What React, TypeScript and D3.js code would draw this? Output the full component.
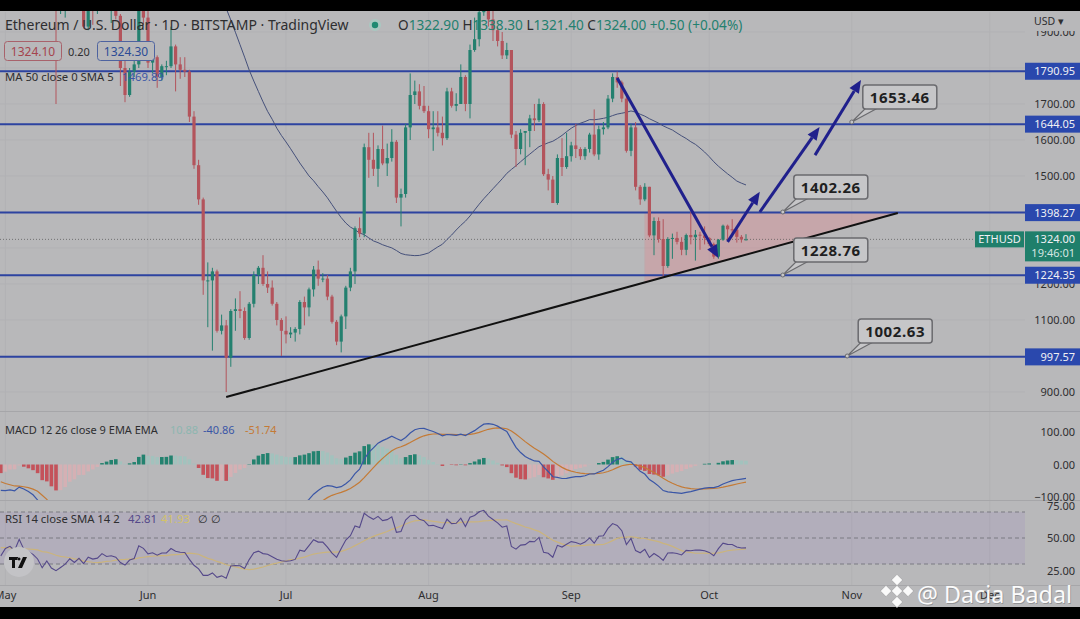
import React from 'react';
import * as d3 from 'd3';

// closes before the first visible candle (Mar 1 - Apr 30), only used to warm up the indicators
const warmupCloses = [
  2970, 2950, 2835, 2620, 2665, 2555, 2495, 2575, 2730, 2610, 2560, 2575, 2515, 2590, 2620, 2770,
  2815, 2945, 2950, 2860, 2895, 2970, 3030, 3110, 3105, 3145, 3295, 3330, 3400, 3385, 3280,
  3450, 3445, 3520, 3520, 3410, 3170, 3235, 3190, 3260, 3210, 2980, 3030, 3120, 3020, 3040,
  3060, 2990, 3060, 3105, 3080, 2985, 2965, 2935, 2920, 3005, 2810, 2890, 2935, 2815, 2730,
];

// daily candles from May 1 2022: [open, high, low, close]
const candles: [number, number, number, number][] = [
  [2730, 2840, 2710, 2825], [2825, 2885, 2780, 2855], [2855, 2870, 2765, 2780], [2780, 2955, 2765, 2940],
  [2940, 2950, 2700, 2750], [2750, 2760, 2650, 2695], [2695, 2705, 2580, 2635], [2635, 2645, 2480, 2520],
  [2520, 2530, 2220, 2240], [2240, 2450, 2200, 2340], [2340, 2460, 2040, 2080], [2080, 2110, 1700, 1960],
  [1960, 2140, 1950, 2010], [2010, 2070, 1940, 2060], [2060, 2150, 2000, 2145], [2145, 2150, 1990, 2025],
  [2025, 2110, 2020, 2090], [2090, 2110, 1910, 1915], [1915, 2040, 1905, 2020], [2020, 2060, 1920, 1960],
  [1960, 1990, 1950, 1975], [1975, 2050, 1965, 2045], [2045, 2085, 1960, 1970], [1970, 2005, 1925, 1980],
  [1980, 2010, 1935, 1945], [1945, 1950, 1750, 1800], [1800, 1825, 1705, 1725], [1725, 1800, 1720, 1790],
  [1790, 1820, 1775, 1810], [1810, 2010, 1800, 1995], [1995, 2020, 1920, 1940],
  // June
  [1940, 1970, 1800, 1815], [1815, 1840, 1785, 1830], [1830, 1835, 1745, 1775], [1775, 1810, 1765, 1805],
  [1805, 1820, 1780, 1805], [1805, 1915, 1800, 1860], [1860, 1865, 1735, 1810], [1810, 1830, 1770, 1795],
  [1795, 1830, 1775, 1790], [1790, 1795, 1650, 1665], [1665, 1680, 1520, 1530], [1530, 1545, 1420, 1435],
  [1435, 1440, 1170, 1210], [1210, 1260, 1080, 1210], [1210, 1245, 1015, 1235], [1235, 1240, 1065, 1070],
  [1070, 1115, 1060, 1085], [1085, 1100, 900, 995], [995, 1130, 970, 1125], [1125, 1160, 1070, 1130],
  [1130, 1180, 1105, 1125], [1125, 1135, 1045, 1050], [1050, 1150, 1045, 1145], [1145, 1235, 1135, 1225],
  [1225, 1250, 1200, 1245], [1245, 1280, 1195, 1200], [1200, 1235, 1175, 1190], [1190, 1210, 1140, 1145],
  [1145, 1150, 1085, 1100], [1100, 1105, 1000, 1070],
  // July
  [1070, 1110, 1035, 1060], [1060, 1080, 1050, 1065], [1065, 1080, 1040, 1075], [1075, 1155, 1060, 1150],
  [1150, 1165, 1085, 1135], [1135, 1190, 1110, 1185], [1185, 1250, 1165, 1240], [1240, 1265, 1195, 1215],
  [1215, 1230, 1205, 1215], [1215, 1225, 1155, 1165], [1165, 1170, 1090, 1095], [1095, 1100, 1030, 1040],
  [1040, 1115, 1010, 1110], [1110, 1195, 1075, 1190], [1190, 1245, 1180, 1235], [1235, 1360, 1200, 1355],
  [1355, 1385, 1330, 1340], [1340, 1590, 1330, 1580], [1580, 1620, 1495, 1545], [1545, 1620, 1500, 1520],
  [1520, 1585, 1470, 1575], [1575, 1640, 1530, 1535], [1535, 1590, 1500, 1550], [1550, 1630, 1540, 1595],
  [1595, 1600, 1425, 1440], [1440, 1465, 1360, 1450], [1450, 1645, 1440, 1635], [1635, 1785, 1600, 1725],
  [1725, 1765, 1700, 1735], [1735, 1755, 1685, 1695], [1695, 1750, 1675, 1680],
  // August
  [1680, 1695, 1605, 1630], [1630, 1680, 1570, 1635], [1635, 1680, 1610, 1620], [1620, 1665, 1585, 1605],
  [1605, 1745, 1600, 1735], [1735, 1745, 1690, 1695], [1695, 1730, 1680, 1700], [1700, 1810, 1700, 1775],
  [1775, 1780, 1680, 1700], [1700, 1865, 1660, 1850], [1850, 1940, 1845, 1880], [1880, 1960, 1860, 1955],
  [1955, 2020, 1945, 1985], [1985, 2030, 1915, 1935], [1935, 2010, 1875, 1905], [1905, 1915, 1860, 1875],
  [1875, 1900, 1825, 1835], [1835, 1870, 1825, 1850], [1850, 1850, 1605, 1615], [1615, 1625, 1525, 1575],
  [1575, 1630, 1560, 1620], [1620, 1625, 1530, 1625], [1625, 1670, 1580, 1660], [1660, 1700, 1625, 1655],
  [1655, 1715, 1650, 1700], [1700, 1705, 1500, 1505], [1505, 1520, 1460, 1490], [1490, 1500, 1425, 1425],
  [1425, 1560, 1420, 1550], [1550, 1605, 1500, 1525], [1525, 1620, 1520, 1555],
  // September
  [1555, 1595, 1540, 1585], [1585, 1645, 1550, 1575], [1575, 1580, 1545, 1555], [1555, 1580, 1545, 1575],
  [1575, 1620, 1565, 1615], [1615, 1685, 1555, 1560], [1560, 1640, 1545, 1630], [1630, 1650, 1615, 1635],
  [1635, 1725, 1630, 1715], [1715, 1785, 1705, 1775], [1775, 1790, 1745, 1760], [1760, 1765, 1705, 1715],
  [1715, 1730, 1565, 1570], [1570, 1645, 1555, 1635], [1635, 1650, 1460, 1470], [1470, 1475, 1420, 1435],
  [1435, 1480, 1430, 1470], [1470, 1470, 1330, 1335], [1335, 1385, 1280, 1375], [1375, 1385, 1315, 1325],
  [1325, 1380, 1220, 1250], [1250, 1330, 1245, 1325], [1325, 1340, 1270, 1328], [1328, 1345, 1310, 1317],
  [1317, 1330, 1280, 1295], [1295, 1340, 1280, 1336], [1336, 1400, 1310, 1330], [1330, 1350, 1265, 1337],
  [1337, 1345, 1295, 1335], [1335, 1360, 1310, 1328],
  // October
  [1328, 1330, 1305, 1311], [1311, 1315, 1270, 1276], [1276, 1325, 1270, 1323], [1323, 1365, 1320, 1362],
  [1362, 1365, 1320, 1352], [1352, 1380, 1340, 1351], [1351, 1355, 1315, 1331], [1331, 1336, 1315, 1323.5],
  [1322.9, 1338.3, 1321.4, 1324],
];

const levels = [1790.95, 1644.05, 1398.27, 1224.35, 997.57];
const priceTicks = [900, 1000, 1100, 1200, 1300, 1400, 1500, 1600, 1700, 1800, 1900];
const monthTicks = ['2022-05-01', '2022-06-01', '2022-07-01', '2022-08-01', '2022-09-01', '2022-10-01', '2022-11-01', '2022-12-01'];
const monthLabels = ['May', 'Jun', 'Jul', 'Aug', 'Sep', 'Oct', 'Nov', 'Dec'];
const macdTicks = [100, 0, -100];
const rsiTicks = [75, 50, 25];
const rsiBands = [70, 50, 30];
const lastPrice = 1324.0;

// legend readouts as printed on the chart
const ohlcLegend = [['O', '1322.90'], ['H', '1338.30'], ['L', '1321.40'], ['C', '1324.00']];
const maLegend = '1469.89';
const macdLegend = ['10.88', '-40.86', '-51.74'];
const rsiLegend = ['42.81', '41.93'];

const callouts = [
  { label: '1653.46', date: '2022-11-01', price: 1650 },
  { label: '1402.26', date: '2022-10-17', price: 1400 },
  { label: '1228.76', date: '2022-10-17', price: 1225 },
  { label: '1002.63', date: '2022-10-31', price: 1000 },
];
const arrows: { from: [string, number]; to: [string, number] }[] = [
  { from: ['2022-09-11', 1772], to: ['2022-10-03', 1272] },
  { from: ['2022-10-05', 1317], to: ['2022-10-12', 1456] },
  { from: ['2022-10-12', 1400], to: ['2022-10-25', 1636] },
  { from: ['2022-10-24', 1558], to: ['2022-11-03', 1767] },
];
const trendLine: [string, number][] = [['2022-06-18', 886], ['2022-11-11', 1397]];
const zoneStart = '2022-09-17';

const BG = '#b8b8ba';
const TXT = '#2e2e30';
const FONT = '"Noto Sans", sans-serif';
const UP = '#24806f';
const DOWN = '#b3545c';
const LEVEL = '#2d43a0';
const NAVY = '#20208c';
const PLOT_R = 1025;

const day = (s: string) => new Date(s + 'T00:00:00Z');

function ema(src: number[], len: number) {
  const k = 2 / (len + 1);
  const out: number[] = [];
  src.forEach((v, i) => out.push(i === 0 ? v : k * v + (1 - k) * out[i - 1]));
  return out;
}

function sma(src: (number | null)[], len: number) {
  return src.map((_, i) => {
    const w = src.slice(Math.max(0, i - len + 1), i + 1);
    if (w.length < len || w.some(v => v == null)) return null;
    return d3.mean(w as number[]) as number;
  });
}

function rsi(src: number[], len: number) {
  const out: (number | null)[] = [null];
  let up = 0, down = 0;
  for (let i = 1; i < src.length; i++) {
    const ch = src[i] - src[i - 1];
    const g = Math.max(ch, 0), l = Math.max(-ch, 0);
    if (i <= len) { up += g / len; down += l / len; }
    else { up = (up * (len - 1) + g) / len; down = (down * (len - 1) + l) / len; }
    out.push(i < len ? null : 100 - 100 / (1 + up / down));
  }
  return out;
}

export default function App() {
  const x = d3.scaleUtc().domain([day('2022-05-01'), day('2022-12-01')]).range([5.4, 989.8]);
  const y = d3.scaleLinear().domain([900, 1900]).range([392, 32]);
  const yMacd = d3.scaleLinear().domain([-100, 100]).range([497, 432]);
  const yRsi = d3.scaleLinear().domain([25, 75]).range([570.5, 505.5]);

  const closes = [...warmupCloses, ...candles.map(c => c[3])];
  const dates = closes.map((_, i) => new Date(Date.UTC(2022, 2, 1 + i)));
  const off = warmupCloses.length;

  const ma50 = sma(closes, 50);
  const e12 = ema(closes, 12);
  const e26 = ema(closes, 26);
  const macd = e12.map((v, i) => v - e26[i]);
  const signal = ema(macd, 9);
  const hist = macd.map((v, i) => v - signal[i]);
  const rsiVals = rsi(closes, 14);
  const rsiMa = sma(rsiVals, 14);

  const idx = d3.range(off - 1, closes.length);
  const lineOf = (vals: (number | null)[], sy: (v: number) => number) =>
    d3.line<number>().defined(i => vals[i] != null).x(i => x(dates[i])).y(i => sy(vals[i] as number))(idx) || '';

  const histColor = (i: number) => {
    const h = hist[i], p = hist[i - 1];
    if (h >= 0) return h > p ? '#23826f' : '#a2c2bd';
    return h < p ? '#c4525a' : '#d5b0b4';
  };

  const fmt = d3.format('.2f');
  const yLast = y(lastPrice);
  // tick labels that sit fully under a level / last-price tag are hidden on the chart
  const visibleTicks = priceTicks.filter(p =>
    !levels.some(l => Math.abs(y(l) - y(p)) < 6) && Math.abs(yLast + 7 - y(p)) > 12);
  const [t0, t1] = trendLine.map(([d, p]) => [x(day(d)), y(p)]);
  const trendAt = (px: number) => t0[1] + (px - t0[0]) * (t1[1] - t0[1]) / (t1[0] - t0[0]);
  const zx = x(day(zoneStart));
  const zone = `M${zx},${y(levels[2])}L${t1[0]},${y(levels[2])}L${t1[0]},${t1[1]}L${zx},${trendAt(zx)}Z`;

  return (
    <svg width={1080} height={619} style={{ position: 'fixed', left: 0, top: 0, background: BG }} fontFamily={FONT}>
      <defs>
        <clipPath id="mainClip"><rect x={0} y={0} width={PLOT_R} height={411} /></clipPath>
        <clipPath id="macdClip"><rect x={0} y={412} width={PLOT_R} height={88} /></clipPath>
        <clipPath id="rsiClip"><rect x={0} y={501} width={PLOT_R} height={84} /></clipPath>
        <clipPath id="axisClip"><rect x={PLOT_R} y={31} width={60} height={380} /></clipPath>
      </defs>
      <rect width={1080} height={619} fill={BG} />

      {/* grid */}
      <g stroke="#b1b1b4" strokeWidth={1}>
        {monthTicks.map(m => <line key={m} x1={x(day(m))} x2={x(day(m))} y1={12} y2={585} />)}
        {priceTicks.map(p => <line key={p} x1={0} x2={PLOT_R} y1={y(p)} y2={y(p)} />)}
      </g>

      {/* main pane */}
      <g clipPath="url(#mainClip)">
        <path d={zone} fill="#e0868f" opacity={0.35} stroke="#c88f96" strokeWidth={0.8} />
        <line x1={0} x2={975} y1={yLast} y2={yLast} stroke="#555" strokeDasharray="1 2" opacity={0.7} />
        {levels.map(l => <line key={l} x1={0} x2={PLOT_R} y1={y(l)} y2={y(l)} stroke={LEVEL} strokeWidth={2} />)}
        <path d={lineOf(ma50, y)} fill="none" stroke="#45507a" strokeWidth={1} />
        {candles.map((c, k) => {
          const cx = x(dates[off + k]);
          const col = c[3] >= c[0] ? UP : DOWN;
          const top = y(Math.max(c[0], c[3]));
          const bh = Math.max(1, y(Math.min(c[0], c[3])) - top);
          return (
            <g key={k}>
              <line x1={cx} x2={cx} y1={y(c[1])} y2={y(c[2])} stroke={col} strokeWidth={1} />
              <rect x={cx - 1.6} y={top} width={3.2} height={bh} fill={col} />
            </g>
          );
        })}
        <line x1={t0[0]} y1={t0[1]} x2={t1[0]} y2={t1[1]} stroke="#111" strokeWidth={2} />
        {arrows.map((a, k) => {
          const x1 = x(day(a.from[0])), y1 = y(a.from[1]);
          const x2 = x(day(a.to[0])), y2 = y(a.to[1]);
          const ang = Math.atan2(y2 - y1, x2 - x1);
          const L = 13, Wd = 5.5;
          const bx = x2 - L * Math.cos(ang), by = y2 - L * Math.sin(ang);
          const px = -Math.sin(ang) * Wd, py = Math.cos(ang) * Wd;
          return (
            <g key={k}>
              <line x1={x1} y1={y1} x2={bx} y2={by} stroke={NAVY} strokeWidth={3} />
              <path d={`M${x2},${y2}L${bx + px},${by + py}L${bx - px},${by - py}Z`} fill={NAVY} />
            </g>
          );
        })}
        {callouts.map(c => {
          const tx = x(day(c.date)), ty = y(c.price);
          const bx = tx + 11, by = ty - 37;
          return (
            <g key={c.label}>
              <path d={`M${tx},${ty}L${bx + 3},${by + 23}L${bx + 15},${by + 23}Z`} fill="#c6c6c8" stroke="#6a6a6e" strokeWidth={1.2} />
              <rect x={bx} y={by} width={74} height={24} rx={3} fill="#c6c6c8" stroke="#6a6a6e" strokeWidth={1.5} />
              <circle cx={tx} cy={ty} r={2} fill="#c6c6c8" stroke="#6a6a6e" strokeWidth={1} />
              <text x={bx + 37} y={by + 17.5} textAnchor="middle" fontSize={15} fontWeight={700} fill="#1f1f22" letterSpacing={0.6}>{c.label}</text>
            </g>
          );
        })}
      </g>

      {/* pane separators */}
      <line x1={0} x2={1080} y1={411.5} y2={411.5} stroke="#a6a6a9" />
      <line x1={0} x2={1080} y1={500.5} y2={500.5} stroke="#a6a6a9" />
      <line x1={0} x2={1080} y1={585.5} y2={585.5} stroke="#a6a6a9" />

      {/* MACD pane */}
      <g clipPath="url(#macdClip)">
        {idx.map(i => {
          const h = hist[i];
          const cx = x(dates[i]);
          return <rect key={i} x={cx - 1.8} y={Math.min(yMacd(h), yMacd(0))} width={3.6} height={Math.abs(yMacd(h) - yMacd(0))} fill={histColor(i)} />;
        })}
        <path d={lineOf(signal, yMacd)} fill="none" stroke="#c47a35" strokeWidth={1.2} />
        <path d={lineOf(macd, yMacd)} fill="none" stroke="#3a56a6" strokeWidth={1.2} />
      </g>
      <g fontSize={11}>
        <text x={5} y={434} fill={TXT}>MACD 12 26 close 9 EMA EMA</text>
        <text x={170} y={434} fill="#8db6b0">{macdLegend[0]}</text>
        <text x={203} y={434} fill="#3a56a6">{macdLegend[1]}</text>
        <text x={245} y={434} fill="#c47a35">{macdLegend[2]}</text>
      </g>

      {/* RSI pane */}
      <g clipPath="url(#rsiClip)">
        <rect x={0} y={yRsi(70)} width={PLOT_R} height={yRsi(30) - yRsi(70)} fill="#7e57c2" opacity={0.1} />
        {rsiBands.map(b => <line key={b} x1={0} x2={PLOT_R} y1={yRsi(b)} y2={yRsi(b)} stroke="#7a7a82" strokeDasharray="4 3" strokeWidth={1} />)}
        <path d={lineOf(rsiMa, yRsi)} fill="none" stroke="#cbb47c" strokeWidth={1.2} />
        <path d={lineOf(rsiVals, yRsi)} fill="none" stroke="#55498a" strokeWidth={1.1} />
      </g>
      <g fontSize={11.3}>
        <text x={5} y={523} fill={TXT}>RSI 14 close SMA 14 2</text>
        <text x={128} y={523} fill="#55498a">{rsiLegend[0]}</text>
        <text x={161} y={523} fill="#d3c26a">{rsiLegend[1]}</text>
        <text x={198} y={523} fill={TXT}>∅ ∅</text>
      </g>

      {/* TradingView logo */}
      <circle cx={19} cy={562} r={15} fill="#c3c3c6" />
      <path d="M9,557h9v3h-3v8h-3v-8h-3z M19,557.5a1.5,1.5 0 1,0 0.01,0 M23,557h4l-5,11h-4z" fill="#111" />

      {/* header legend */}
      <text x={5} y={30} fontSize={14} fill={TXT}>Ethereum / U.S. Dollar · 1D · BITSTAMP · TradingView</text>
      <circle cx={375} cy={25} r={6} fill="#a9c8c1" />
      <circle cx={375} cy={25} r={3.2} fill="#1e8a72" />
      <text x={398} y={30} fontSize={13.6} fill="#23806f">
        {ohlcLegend.map(([k, v]) => (
          <tspan key={k}><tspan fill={TXT}>{k}</tspan>{v} </tspan>
        ))}
        +0.50 (+0.04%)
      </text>
      <rect x={4.5} y={41.5} width={57} height={19} rx={3} fill={BG} stroke="#a8626b" />
      <text x={33} y={55.5} textAnchor="middle" fontSize={12} fill="#a5444e">1324.10</text>
      <text x={79} y={55.5} textAnchor="middle" fontSize={11} fill={TXT}>0.20</text>
      <rect x={97.5} y={41.5} width={57} height={19} rx={3} fill={BG} stroke="#4e63a0" />
      <text x={126} y={55.5} textAnchor="middle" fontSize={12} fill="#2c4c96">1324.30</text>
      <text x={5} y={81} fontSize={11.3} fill={TXT}>MA 50 close 0 SMA 5</text>
      <text x={122} y={81} fontSize={11.3} fill="#3a56a6">{maLegend}</text>

      {/* price axis */}
      <g clipPath="url(#axisClip)" fontSize={11} fill={TXT}>
        {visibleTicks.map(p => <text key={p} x={1075} y={y(p) + 4} textAnchor="end">{fmt(p)}</text>)}
      </g>
      <text x={1034} y={25} fontSize={10.5} fill={TXT}>USD ▾</text>
      {levels.map(l => (
        <g key={l}>
          <rect x={1025} y={y(l) - 8.5} width={55} height={17} fill="#2a48ad" />
          <text x={1075} y={y(l) + 4} textAnchor="end" fontSize={11} fill="#f0f0f4">{fmt(l)}</text>
        </g>
      ))}
      <rect x={975} y={yLast - 8} width={49} height={16} fill="#1f7f6b" />
      <text x={999.5} y={yLast + 4} textAnchor="middle" fontSize={11} fill="#f0f0f4">ETHUSD</text>
      <rect x={1025} y={yLast - 8} width={55} height={30} fill="#1f7f6b" />
      <text x={1075} y={yLast + 4} textAnchor="end" fontSize={11} fill="#f0f0f4">{fmt(lastPrice)}</text>
      <text x={1075} y={yLast + 18} textAnchor="end" fontSize={11} fill="#d6e6e2">19:46:01</text>

      {macdTicks.map(t => <text key={t} x={1075} y={yMacd(t) + 4} textAnchor="end" fontSize={11} fill={TXT}>{t === 0 ? '0.00' : fmt(t)}</text>)}
      {rsiTicks.map(t => <text key={t} x={1075} y={yRsi(t) + 4} textAnchor="end" fontSize={11} fill={TXT}>{fmt(t)}</text>)}

      {/* time axis */}
      {monthTicks.map((m, k) => (
        <text key={m} x={x(day(m))} y={599} textAnchor="middle" fontSize={11} fill={TXT}>{monthLabels[k]}</text>
      ))}

      {/* screenshot frame */}
      <rect x={0} y={0} width={1080} height={11} fill="#000" />
      <rect x={0} y={607} width={1080} height={12} fill="#000" />

      {/* watermark */}
      <g>
        {[[897, 580], [897, 602], [886, 591], [908, 591], [897, 591]].map(([cx, cy], k) => (
          <rect key={k} x={cx - 4} y={cy - 4} width={8} height={8} fill="#fafafa" stroke="#8a8a8d" strokeWidth={0.5}
            transform={`rotate(45 ${cx} ${cy})`} />
        ))}
        <text x={917} y={603} fontSize={24} textLength={155} lengthAdjust="spacingAndGlyphs" fill="#7a7a7e" opacity={0.6} dx={0.8} dy={0.8}>@ Dacia Badal</text>
        <text x={917} y={603} fontSize={24} textLength={155} lengthAdjust="spacingAndGlyphs" fill="#fbfbfb">@ Dacia Badal</text>
      </g>
    </svg>
  );
}
